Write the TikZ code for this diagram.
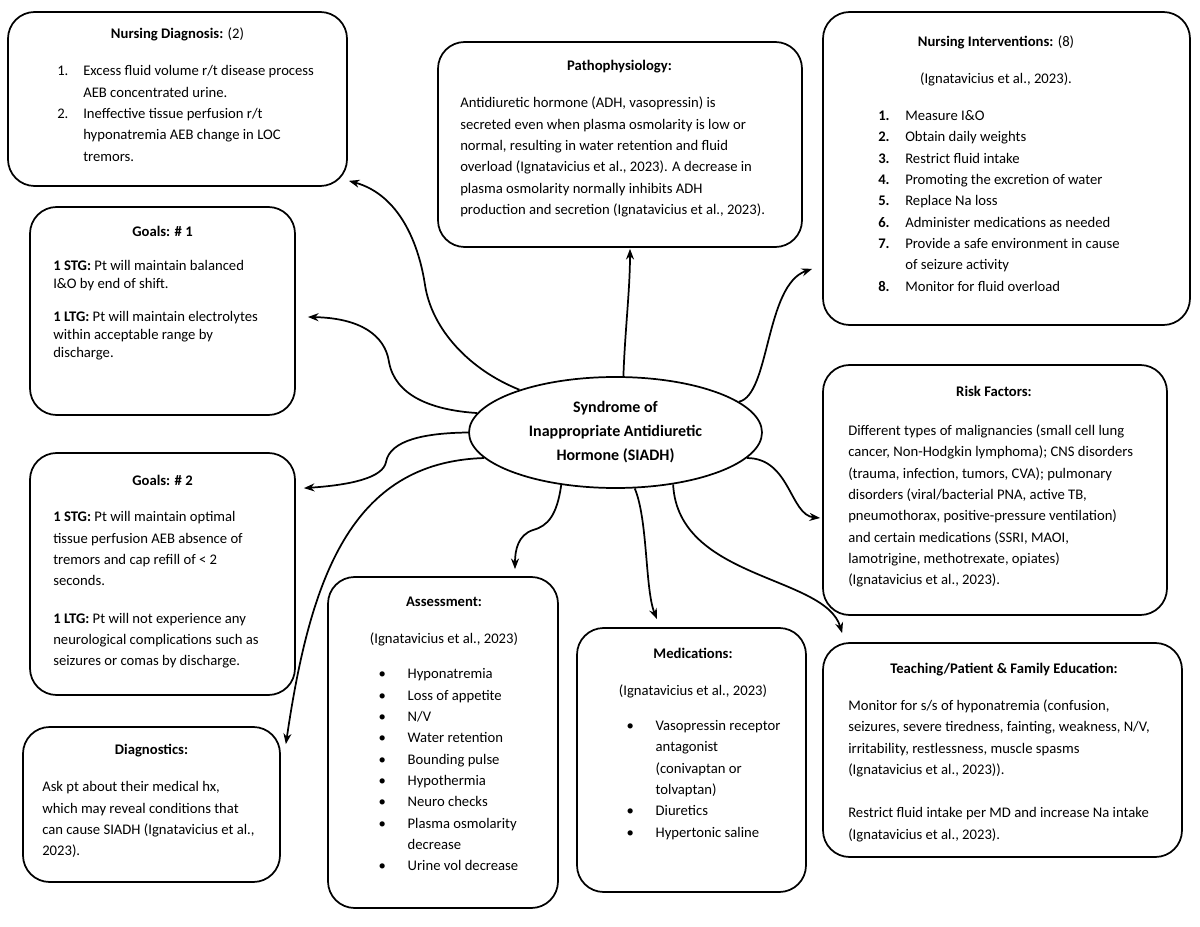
\documentclass[tikz,border=0pt]{standalone}
\usepackage{fontspec}
\setmainfont{Carlito}
\usetikzlibrary{arrows.meta,shapes.geometric,fit,calc}
\newcommand{\numlbl}[2][19.5pt]{\makebox[#1][l]{#2}}
\begin{document}
\begin{tikzpicture}[x=0.75pt,y=0.75pt,yscale=-1,xscale=1,
    box/.style={draw,line width=1.3pt,rounded corners=20pt,inner sep=0pt},
    head/.style={anchor=base,inner sep=0pt,font=\fontsize{11}{16}\selectfont\bfseries},
    cite/.style={anchor=base,inner sep=0pt,font=\fontsize{11}{16}\selectfont},
    body/.style={anchor=north west,inner sep=0pt,align=left,font=\fontsize{11}{16}\selectfont},
    link/.style={line width=1.3pt,-{Stealth[length=8pt,width=6pt]}}]
    \useasboundingbox (0,0) rectangle (1200,927);

    %Shape: Ellipse [centre]
    \node[draw,ellipse,line width=1.3pt,inner sep=0pt,minimum width=219.75pt,minimum height=83.25pt,
          align=center,font=\fontsize{12}{18}\selectfont\bfseries] (siadh) at (615.5,432.5)
          {Syndrome of\\Inappropriate Antidiuretic\\Hormone (SIADH)};

    %Shape: Rounded Rect [nursing diagnosis]
    \node[box,fit={(8,12) (347,186)}] (nd) {};
    % Text Node
    \node[head] (ndhead) at (177.5,38.4) {Nursing Diagnosis: {\mdseries (2)}};
    % Text Node
    \node[body] (ndtext) at (57,60.5) {\strut\numlbl{1.}Excess fluid volume r/t disease process\\
        \hspace*{19.5pt}AEB concentrated urine.\\
        \numlbl{2.}Ineffective tissue perfusion r/t\\
        \hspace*{19.5pt}hyponatremia AEB change in LOC\\
        \hspace*{19.5pt}tremors.};

    %Shape: Rounded Rect [goals 1]
    \node[box,fit={(30,207) (295,415)}] (g1) {};
    % Text Node
    \node[head] (g1head) at (162.5,236.7) {Goals: \# 1};
    % Text Node
    \node[body,font=\fontsize{11}{13.7}\selectfont] (g1text) at (53,257.6) {\strut\textbf{1 STG:} Pt will maintain balanced\\
        I\&O by end of shift.\\[10.7pt]
        \textbf{1 LTG:} Pt will maintain electrolytes\\
        within acceptable range by\\
        discharge.};

    %Shape: Rounded Rect [goals 2]
    \node[box,fit={(30,453) (295,695)}] (g2) {};
    % Text Node
    \node[head] (g2head) at (162.5,485.7) {Goals: \# 2};
    % Text Node
    \node[body] (g2text) at (53,506.5) {\strut\textbf{1 STG:} Pt will maintain optimal\\
        tissue perfusion AEB absence of\\
        tremors and cap refill of < 2\\
        seconds.\\[12pt]
        \textbf{1 LTG:} Pt will not experience any\\
        neurological complications such as\\
        seizures or comas by discharge.};

    %Shape: Rounded Rect [diagnostics]
    \node[box,fit={(23,727) (280,882)}] (diag) {};
    % Text Node
    \node[head] (diaghead) at (151.5,754.1) {Diagnostics:};
    % Text Node
    \node[body] (diagtext) at (42,776.5) {\strut Ask pt about their medical hx,\\
        which may reveal conditions that\\
        can cause SIADH (Ignatavicius et al.,\\
        2023).};

    %Shape: Rounded Rect [pathophysiology]
    \node[box,fit={(438,42) (802,247)}] (patho) {};
    % Text Node
    \node[head] (pathohead) at (619.5,70.1) {Pathophysiology:};
    % Text Node
    \node[body] (pathotext) at (460,92.5) {\strut Antidiuretic hormone (ADH, vasopressin) is\\
        secreted even when plasma osmolarity is low or\\
        normal, resulting in water retention and fluid\\
        overload (Ignatavicius et al., 2023). A decrease in\\
        plasma osmolarity normally inhibits ADH\\
        production and secretion (Ignatavicius et al., 2023).};

    %Shape: Rounded Rect [nursing interventions]
    \node[box,fit={(823,12) (1190,325)}] (ni) {};
    % Text Node
    \node[head] (nihead) at (996,46.7) {Nursing Interventions: {\mdseries (8)}};
    % Text Node
    \node[cite] (nicite) at (996,83.4) {(Ignatavicius et al., 2023).};
    % Text Node
    \node[body] (nitext) at (878,105.2) {\strut\numlbl[20.25pt]{\textbf{1.}}Measure I\&O\\
        \numlbl[20.25pt]{\textbf{2.}}Obtain daily weights\\
        \numlbl[20.25pt]{\textbf{3.}}Restrict fluid intake\\
        \numlbl[20.25pt]{\textbf{4.}}Promoting the excretion of water\\
        \numlbl[20.25pt]{\textbf{5.}}Replace Na loss\\
        \numlbl[20.25pt]{\textbf{6.}}Administer medications as needed\\
        \numlbl[20.25pt]{\textbf{7.}}Provide a safe environment in cause\\
        \hspace*{20.25pt}of seizure activity\\
        \numlbl[20.25pt]{\textbf{8.}}Monitor for fluid overload};

    %Shape: Rounded Rect [risk factors]
    \node[box,fit={(823,365) (1167,615)}] (rf) {};
    % Text Node
    \node[head] (rfhead) at (994,396.7) {Risk Factors:};
    % Text Node
    \node[body] (rftext) at (848,420.2) {\strut Different types of malignancies (small cell lung\\
        cancer, Non-Hodgkin lymphoma); CNS disorders\\
        (trauma, infection, tumors, CVA); pulmonary\\
        disorders (viral/bacterial PNA, active TB,\\
        pneumothorax, positive-pressure ventilation)\\
        and certain medications (SSRI, MAOI,\\
        lamotrigine, methotrexate, opiates)\\
        (Ignatavicius et al., 2023).};

    %Shape: Rounded Rect [teaching]
    \node[box,fit={(823,643) (1182,857)}] (teach) {};
    % Text Node
    \node[head] (teachhead) at (1004,673.4) {Teaching/Patient \& Family Education:};
    % Text Node
    \node[body] (teachtext) at (848,695.2) {\strut Monitor for s/s of hyponatremia (confusion,\\
        seizures, severe tiredness, fainting, weakness, N/V,\\
        irritability, restlessness, muscle spasms\\
        (Ignatavicius et al., 2023)).\\[16.5pt]
        Restrict fluid intake per MD and increase Na intake\\
        (Ignatavicius et al., 2023).};

    %Shape: Rounded Rect [assessment]
    \node[box,fit={(328,577) (558,908)}] (assess) {};
    % Text Node
    \node[head] (assesshead) at (444,606.7) {Assessment:};
    % Text Node
    \node[cite] (assesscite) at (444,643.4) {(Ignatavicius et al., 2023)};
    % Text Node
    \node[body] (assesstext) at (378.4,663.5) {\strut\numlbl[21.75pt]{\textbullet}Hyponatremia\\
        \numlbl[21.75pt]{\textbullet}Loss of appetite\\
        \numlbl[21.75pt]{\textbullet}N/V\\
        \numlbl[21.75pt]{\textbullet}Water retention\\
        \numlbl[21.75pt]{\textbullet}Bounding pulse\\
        \numlbl[21.75pt]{\textbullet}Hypothermia\\
        \numlbl[21.75pt]{\textbullet}Neuro checks\\
        \numlbl[21.75pt]{\textbullet}Plasma osmolarity\\
        \hspace*{21.75pt}decrease\\
        \numlbl[21.75pt]{\textbullet}Urine vol decrease};

    %Shape: Rounded Rect [medications]
    \node[box,fit={(577,628) (806,892)}] (meds) {};
    % Text Node
    \node[head] (medshead) at (693,658.4) {Medications:};
    % Text Node
    \node[cite] (medscite) at (693,695.1) {(Ignatavicius et al., 2023)};
    % Text Node
    \node[body] (medstext) at (626.4,715.2) {\strut\numlbl[21.75pt]{\textbullet}Vasopressin receptor\\
        \hspace*{21.75pt}antagonist\\
        \hspace*{21.75pt}(conivaptan or\\
        \hspace*{21.75pt}tolvaptan)\\
        \numlbl[21.75pt]{\textbullet}Diuretics\\
        \numlbl[21.75pt]{\textbullet}Hypertonic saline};

    %Curve Lines [centre to boxes]
    \draw[link] (siadh.156) .. controls (470,370) and (432,330) .. (425,285) .. controls (419,245) and (400,195) .. ($(nd.south east)+(1,-6)$);
    \draw[link] (siadh.172) .. controls (430,410) and (395,395) .. (389,362) .. controls (385,335) and (360,318) .. ($(g1.east)+(12,6)$);
    \draw[link] (siadh.180) .. controls (425,433) and (390,440) .. (386,462) .. controls (383,478) and (350,485) .. ($(g2.north east)+(8,36)$);
    \draw[link] (siadh.191) .. controls (350,462) and (310,580) .. ($(diag.north east)+(5,18)$);
    \draw[link] (siadh.82) .. controls (625,330) and (630,290) .. ($(patho.south)+(10,1)$);
    \draw[link] (siadh.14) .. controls (770,395) and (765,285) .. ($(ni.south west)+(-10,-57)$);
    \draw[link] (siadh.349) .. controls (790,458) and (790,515) .. ($(rf.west)+(-2,28)$);
    \draw[link] (siadh.318) .. controls (678,580) and (825,575) .. ($(teach.north west)+(20,-9)$);
    \draw[link] (siadh.289) .. controls (648,520) and (645,590) .. ($(meds.north)+(-34.5,-8)$);
    \draw[link] (siadh.224) .. controls (557,515) and (548,526) .. (533,530) .. controls (518,535) and (515,550) .. ($(assess.north)+(72,-7)$);

\end{tikzpicture}
\end{document}
